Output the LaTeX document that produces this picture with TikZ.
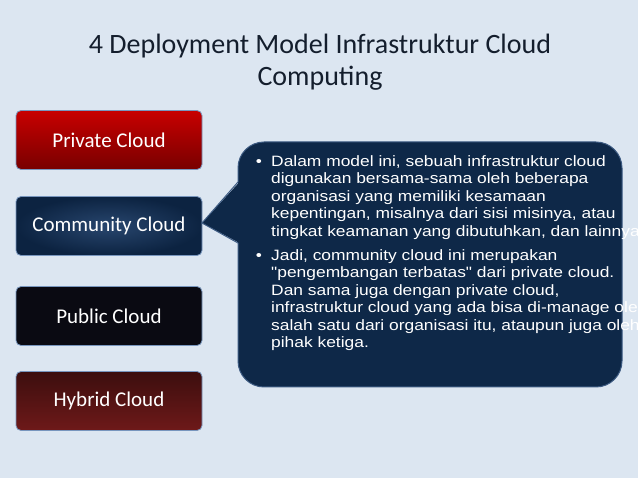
\documentclass[tikz,border=0pt]{standalone}
\usepackage{fontspec}
\setmainfont{Carlito}
\newfontfamily\arialf[FakeStretch=1.16]{Liberation Sans}
\definecolor{bg}{RGB}{220,230,241}
\definecolor{callfill}{RGB}{14,40,72}
\definecolor{calldraw}{RGB}{60,90,130}
\definecolor{titlec}{RGB}{20,30,45}
\definecolor{boxdraw}{RGB}{120,150,190}
\definecolor{redA}{RGB}{200,0,0}
\definecolor{redB}{RGB}{120,0,0}
\definecolor{navyA}{RGB}{40,70,110}
\definecolor{navyB}{RGB}{12,35,65}
\definecolor{blk}{RGB}{10,10,18}
\definecolor{marA}{RGB}{60,14,14}
\definecolor{marB}{RGB}{110,25,25}
\begin{document}
\begin{tikzpicture}[x=1pt,y=-1pt,
  mbox/.style={rounded corners=5pt,draw=boxdraw,line width=0.8pt,minimum width=186pt,minimum height=59pt,text=white,font=\fontsize{21}{24}\selectfont},
  btxt/.style={anchor=north west,align=left,text=white,font=\arialf\fontsize{15}{17.5}\selectfont,inner sep=0pt}]
\fill[bg] (0,0) rectangle (638,478);
\useasboundingbox (0,0) rectangle (638,478);
\node[font=\fontsize{28}{32}\selectfont,text=titlec,align=center] (title) at (320,62) {4 Deployment Model Infrastruktur Cloud\\Computing};
\node[mbox,top color=redA,bottom color=redB] (priv) at (109,140) {Private Cloud};
\node[mbox,inner color=navyA,outer color=navyB] (comm) at (109,226) {Community Cloud};
\node[mbox,fill=blk] (pub) at (109,316) {Public Cloud};
\node[mbox,top color=marA,bottom color=marB] (hyb) at (109,401) {Hybrid Cloud};
\coordinate (tip) at (202,223);
\draw[fill=callfill,draw=calldraw,line width=1pt,rounded corners=26pt]
  (238,182) -- (238,142) -- (622,142) -- (622,387) -- (238,387) -- (238,243);
\fill[callfill] (239.5,182) -- (tip) -- (239.5,243) -- cycle;
\draw[calldraw,line width=1pt] (238,182) -- (tip) -- (238,243);
\node[text=white,font=\arialf\fontsize{15}{17.5}\selectfont] (b1) at (259,163) {•};
\node[btxt] (t1) at (271,155) {Dalam model ini, sebuah infrastruktur cloud\\digunakan bersama-sama oleh beberapa\\organisasi yang memiliki kesamaan\\kepentingan, misalnya dari sisi misinya, atau\\tingkat keamanan yang dibutuhkan, dan lainnya.};
\node[text=white,font=\arialf\fontsize{15}{17.5}\selectfont] (b2) at (259,257) {•};
\node[btxt] (t2) at (271,249) {Jadi, community cloud ini merupakan\\"pengembangan terbatas" dari private cloud.\\Dan sama juga dengan private cloud,\\infrastruktur cloud yang ada bisa di-manage oleh\\salah satu dari organisasi itu, ataupun juga oleh\\pihak ketiga.};
\end{tikzpicture}
\end{document}
